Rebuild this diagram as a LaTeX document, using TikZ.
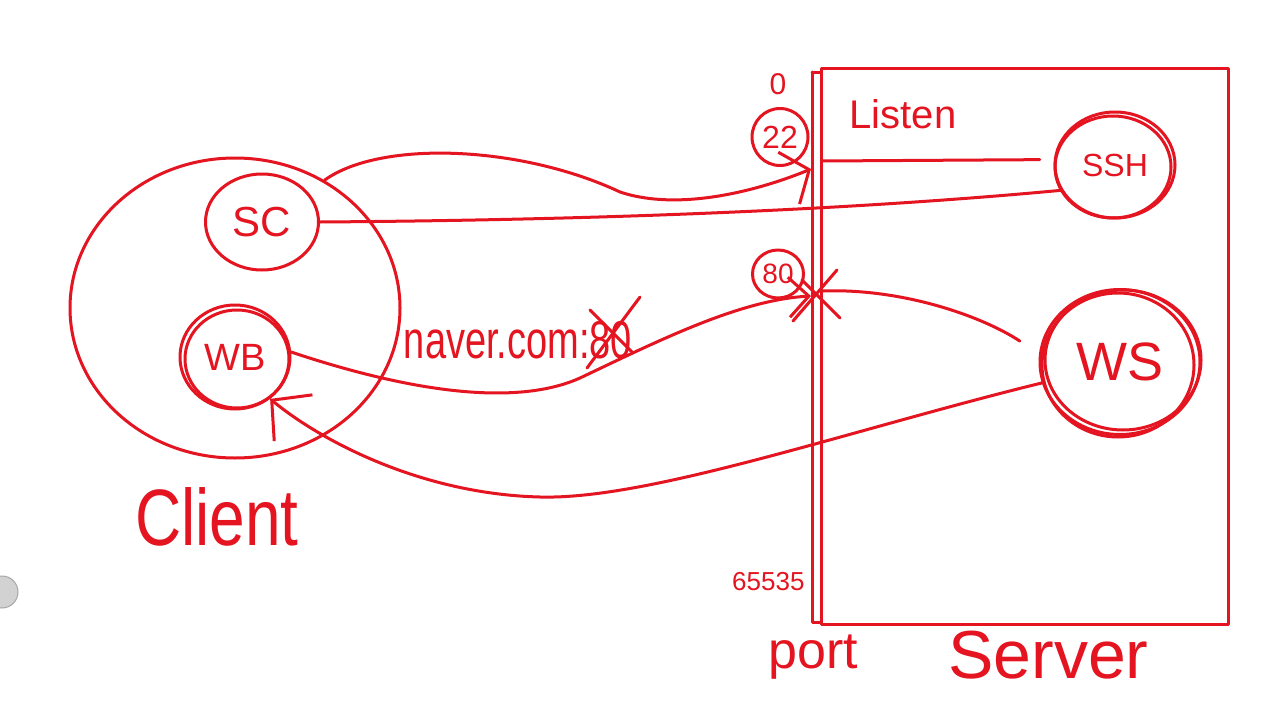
\documentclass[tikz,border=0pt]{standalone}
\usepackage{fontspec}
\setmainfont{Liberation Sans}
\usetikzlibrary{shapes.geometric,arrows.meta,calc}
\definecolor{pen}{RGB}{228,20,32}
\begin{document}
\begin{tikzpicture}[x=1pt,y=-1pt,
  ink/.style={draw=pen,line width=3pt,line cap=round,line join=round},
  ring/.style={ink,ellipse,inner sep=0pt,text=pen},
  lbl/.style={text=pen,inner sep=0pt},
  headA/.style={-{Straight Barb[length=22pt,width=56pt,line width=3pt]}},
  headB/.style={-{Straight Barb[length=20pt,width=40pt,line width=3pt]}},
  headC/.style={-{Straight Barb[length=28pt,width=60pt,line width=3pt]}},
]
\fill[white] (0,0) rectangle (1280,720);
\useasboundingbox (0,0) rectangle (1280,720);
% UI artefact
\fill[gray!35,draw=gray!70,line width=1pt] (2,592) circle (16);

% server box and port bar
\draw[ink] (821,68) rectangle (1228,624);
\draw[ink] (812,72) -- (812,622) -- (821,622);
\draw[ink] (812,72) -- (821,72);

% client side
\node[ring,minimum width=330pt,minimum height=300pt] (client) at (235,308) {};
\node[ring,minimum width=113pt,minimum height=96pt,font=\fontsize{42}{42}\selectfont] (sc) at (262,222) {SC};
\node[ring,minimum width=110pt,minimum height=104pt,font=\fontsize{38}{38}\selectfont] (wb) at (235,357) {WB};
\draw[ink] ($(wb)+(2,2)$) ellipse [x radius=52, y radius=49];
\node[lbl,anchor=base west,yscale=1.25,font=\fontsize{64}{64}\selectfont] (clientlbl) at (135,545) {Client};

% ports
\node[lbl,font=\fontsize{30}{30}\selectfont] (p0) at (778,84) {0};
\node[ring,minimum width=56pt,minimum height=57pt,font=\fontsize{32}{32}\selectfont] (p22) at (780,137) {22};
\node[ring,minimum width=51pt,minimum height=48pt,font=\fontsize{28}{28}\selectfont] (p80) at (778,274) {80};
\node[lbl,anchor=base west,font=\fontsize{26}{26}\selectfont] (p65) at (732,590) {65535};
\node[lbl,anchor=base west,font=\fontsize{52}{52}\selectfont] (portlbl) at (768,668) {port};
\node[lbl,anchor=base west,font=\fontsize{68}{68}\selectfont] (serverlbl) at (948,678) {Server};
\node[lbl,font=\fontsize{40}{40}\selectfont] (listen) at (903,114) {Listen};

% server side
\node[ring,minimum width=120pt,minimum height=106pt,font=\fontsize{32}{32}\selectfont] (ssh) at (1115,165) {SSH};
\draw[ink] ($(ssh)+(-2,2)$) ellipse [x radius=58, y radius=51];
\node[ring,minimum width=160pt,minimum height=145pt,font=\fontsize{54}{54}\selectfont] (ws) at (1120,362) {WS};
\draw[ink] ($(ws)+(3,-2)$) ellipse [x radius=78, y radius=70];
\draw[ink] ($(ws)+(-2,3)$) ellipse [x radius=76, y radius=72];

% request text
\node[lbl,yscale=1.4,font=\fontsize{38}{38}\selectfont] (naver) at (518,340) {naver.com:80};
\draw[ink] (587,368) -- (640,297);
\draw[ink] (590,310) -- (633,353);

% port entry points
\coordinate (in22) at (811,169);
\coordinate (out22) at (822,161);
\coordinate (in80) at (811,296);
\coordinate (out80) at (822,291);

% connectors
\draw[ink,headA] (client.55) .. controls (380,140) and (520,145) .. (620,192)
   .. controls (680,212) and (760,190) .. (in22);
\draw[ink] (sc.east) .. controls (600,220) and (850,210) .. (ssh.205);
\draw[ink] (out22) -- ($(ssh.175)+(-14,0)$);
\draw[ink,headB] (wb.5) .. controls (420,395) and (520,405) .. (580,378)
   .. controls (660,340) and (740,300) .. (in80);
\draw[ink] ($(in80)+(-18,25)$) -- ($(in80)+(26,-26)$);
\draw[ink] ($(in80)+(-9,-16)$) -- ($(in80)+(29,22)$);
\draw[ink] (out80) .. controls (900,288) and (980,315) .. ($(ws.165)+(-22,0)$);
\draw[ink,headC] (ws.195) .. controls (850,430) and (650,500) .. (540,497)
   .. controls (420,494) and (320,440) .. (wb.-50);
\end{tikzpicture}
\end{document}
